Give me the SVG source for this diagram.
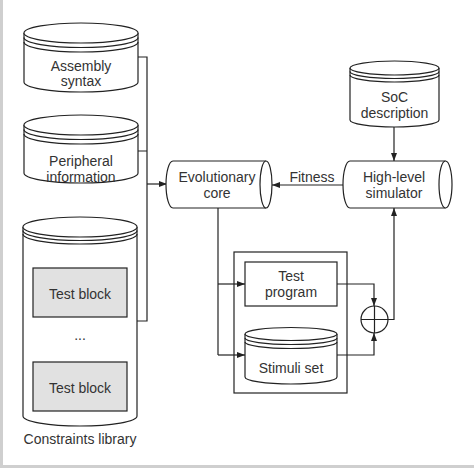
<svg xmlns="http://www.w3.org/2000/svg" width="474" height="468" viewBox="0 0 474 468">
<style>
.s{fill:none;stroke:#222;stroke-width:1.2}
.w{fill:#fff;stroke:#222;stroke-width:1.2}
.g{fill:#e1e1e1;stroke:#222;stroke-width:1.2}
text{font-family:"Liberation Sans",Arial,sans-serif;font-size:14px;fill:#333;text-anchor:middle}
</style>
<defs>
<marker id="ah" markerWidth="8" markerHeight="6" refX="8" refY="3" orient="auto" markerUnits="userSpaceOnUse">
<path d="M0,0 L8,3 L0,6 Z" fill="#222"/>
</marker>
</defs>
<rect x="0" y="0" width="474" height="468" fill="#fff"/>
<rect x="0" y="0" width="3" height="468" fill="#cfcfcf"/>
<rect x="0" y="465" width="474" height="3" fill="#cfcfcf"/>

<g id="connectors">
<path class="s" d="M138,57 H147 V321 H137 M138,151 H147"/>
<path class="s" d="M147,184 H167" marker-end="url(#ah)"/>
<path class="s" d="M344,185 H272" marker-end="url(#ah)"/>
<path class="s" d="M394,127 V161" marker-end="url(#ah)"/>
<path class="s" d="M218,208 V355"/>
<path class="s" d="M218,284 H245" marker-end="url(#ah)"/>
<path class="s" d="M218,355 H245" marker-end="url(#ah)"/>
<path class="s" d="M337,284 H374 V306" marker-end="url(#ah)"/>
<path class="s" d="M337,355 H374 V333" marker-end="url(#ah)"/>
<path class="s" d="M387.5,319.5 H394 V208" marker-end="url(#ah)"/>
</g>

<g id="assembly">
<path class="w" d="M24,33 V82 A57,10 0 0 0 138,82 V33"/>
<ellipse class="w" cx="81" cy="33" rx="57" ry="10"/>
<path class="s" d="M24,37.5 A57,10 0 0 0 138,37.5 M24,42 A57,10 0 0 0 138,42"/>
<text x="81" y="71">Assembly</text>
<text x="81" y="86">syntax</text>
</g>

<g id="peripheral">
<path class="w" d="M24,125 V173 A57,10 0 0 0 138,173 V125"/>
<ellipse class="w" cx="81" cy="125" rx="57" ry="10"/>
<path class="s" d="M24,129.5 A57,10 0 0 0 138,129.5 M24,134 A57,10 0 0 0 138,134"/>
<text x="81" y="166">Peripheral</text>
<text x="81" y="182">information</text>
</g>

<g id="constraints">
<path class="w" d="M23,227 V416 A57,10 0 0 0 137,416 V227"/>
<ellipse class="w" cx="80" cy="227" rx="57" ry="10"/>
<path class="s" d="M23,230.5 A57,10 0 0 0 137,230.5 M23,234 A57,10 0 0 0 137,234"/>
<rect class="g" x="33" y="268" width="94" height="49"/>
<text x="80" y="299">Test block</text>
<text x="80" y="340">...</text>
<rect class="g" x="33" y="362" width="94" height="49"/>
<text x="80" y="393">Test block</text>
<text x="80" y="444">Constraints library</text>
</g>

<g id="evolutionary">
<path class="w" d="M266,161 H173 A7,23.5 0 0 0 173,208 H266"/>
<ellipse class="w" cx="266" cy="184.5" rx="6" ry="23.5"/>
<text x="217" y="182">Evolutionary</text>
<text x="217" y="198">core</text>
</g>

<text x="312" y="182">Fitness</text>

<g id="simulator">
<path class="w" d="M445.5,161 H350 A7,23.5 0 0 0 350,208 H445.5"/>
<ellipse class="w" cx="445.5" cy="184.5" rx="6.5" ry="23.5"/>
<text x="394" y="182">High-level</text>
<text x="394" y="198">simulator</text>
</g>

<g id="soc">
<path class="w" d="M350,68 V120 A44.5,7 0 0 0 439,120 V68"/>
<ellipse class="w" cx="394.5" cy="68" rx="44.5" ry="7"/>
<path class="s" d="M350,71.5 A44.5,7 0 0 0 439,71.5 M350,75 A44.5,7 0 0 0 439,75"/>
<text x="394.5" y="102">SoC</text>
<text x="394.5" y="118">description</text>
</g>

<g id="testset">
<rect class="s" x="234" y="252" width="113" height="141"/>
</g>

<g id="testprogram">
<rect class="w" x="245" y="262" width="92" height="44"/>
<text x="291" y="281">Test</text>
<text x="291" y="297">program</text>
</g>

<g id="stimuli">
<path class="w" d="M245,334 V377 A46,7 0 0 0 337,377 V334"/>
<ellipse class="w" cx="291" cy="334" rx="46" ry="6.5"/>
<path class="s" d="M245,338 A46,6.5 0 0 0 337,338 M245,342 A46,6.5 0 0 0 337,342"/>
<text x="291" y="373">Stimuli set</text>
</g>

<g id="sum">
<circle class="w" cx="374.5" cy="319.5" r="13.5"/>
<path class="s" d="M361,319.5 H388 M374.5,306 V333"/>
</g>
</svg>
